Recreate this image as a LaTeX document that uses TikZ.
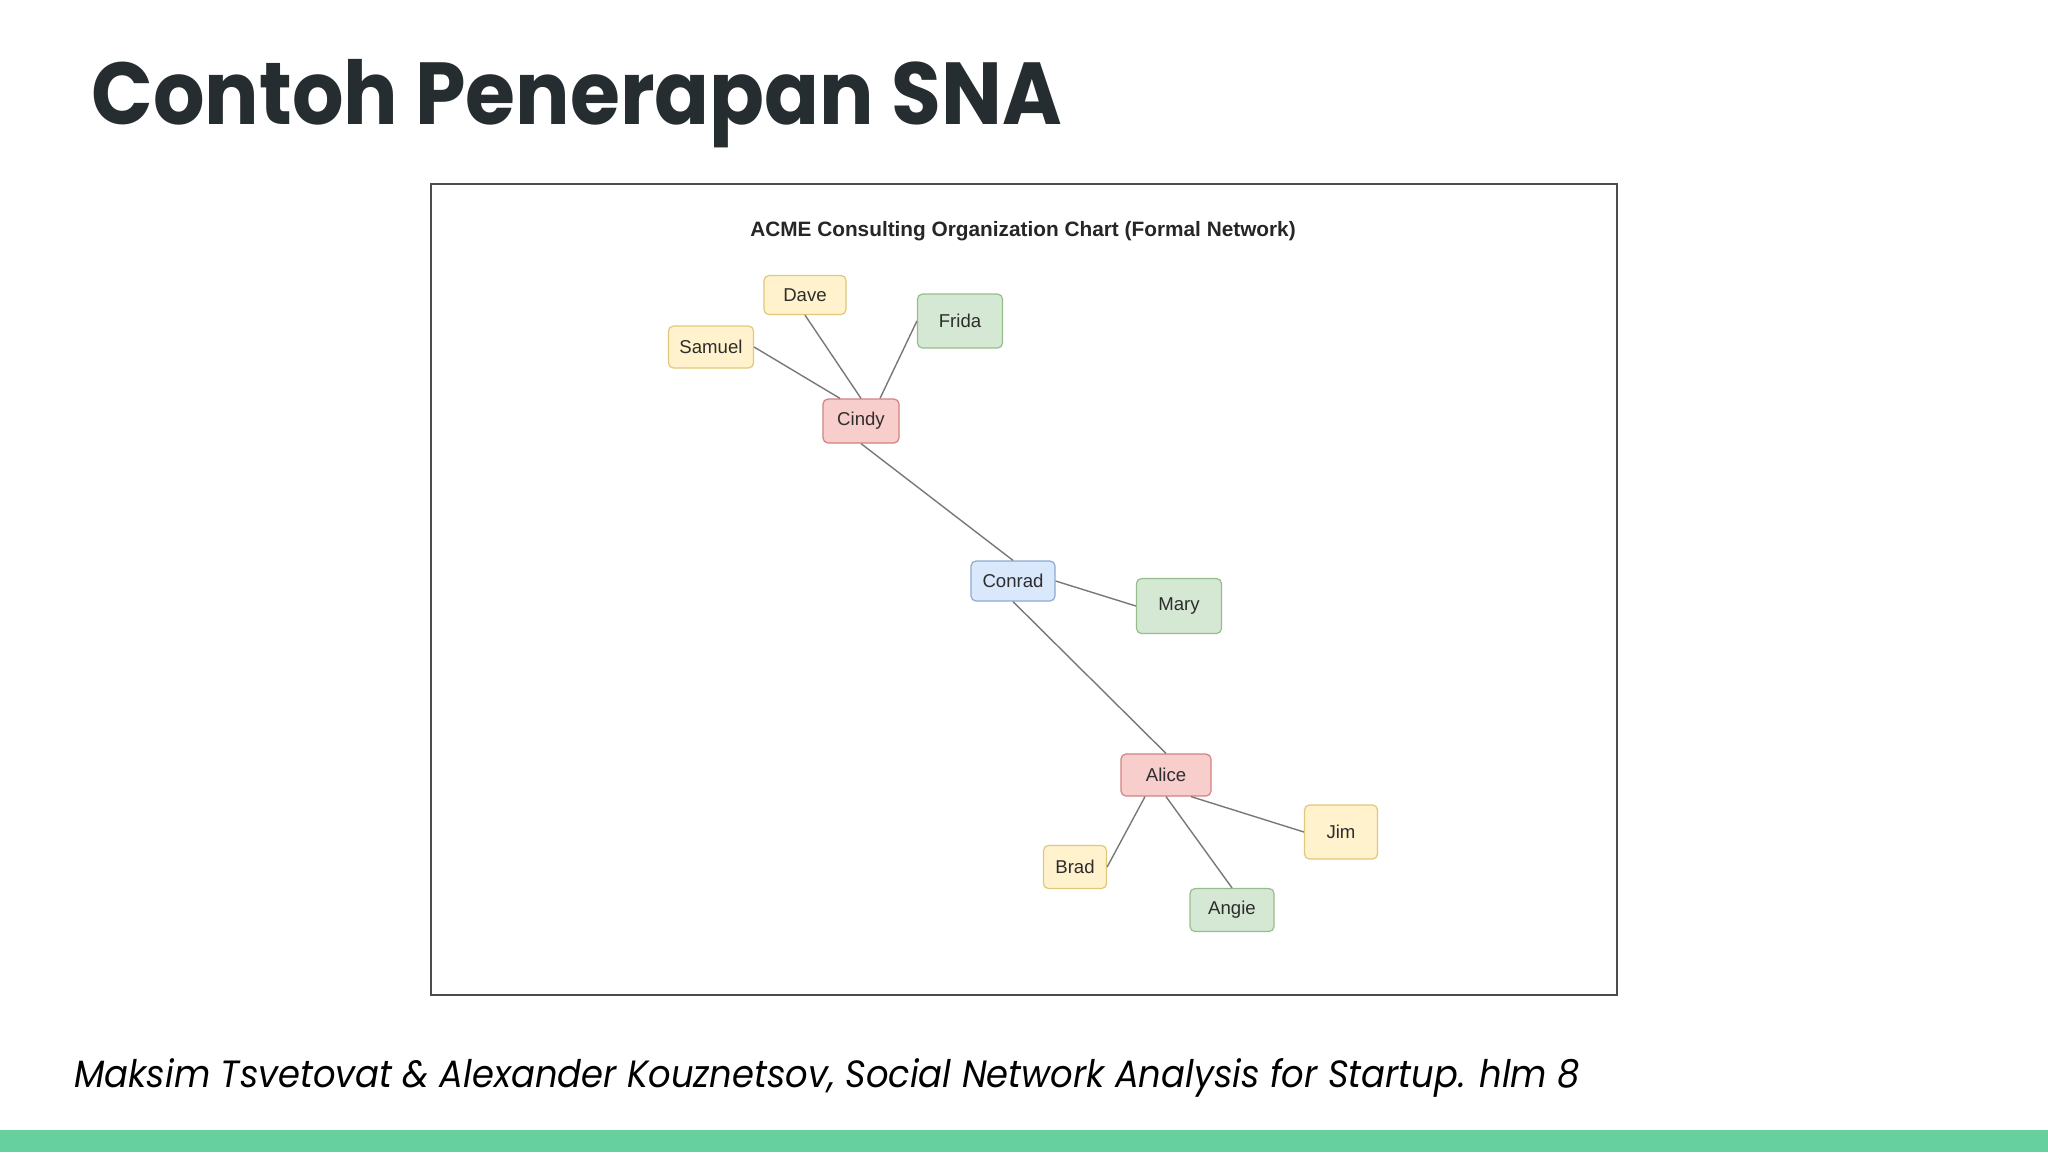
\documentclass[tikz,border=0pt]{standalone}
\usepackage{fontspec}
\setmainfont{Liberation Sans}
\newfontfamily\popfont{Poppins}
\definecolor{titlecol}{RGB}{38,45,48}
\definecolor{barcol}{RGB}{102,209,158}
\definecolor{ylwfill}{RGB}{255,242,204}
\definecolor{ylwdraw}{RGB}{224,200,120}
\definecolor{grnfill}{RGB}{213,232,212}
\definecolor{grndraw}{RGB}{150,190,140}
\definecolor{redfill}{RGB}{248,206,204}
\definecolor{reddraw}{RGB}{210,130,130}
\definecolor{blufill}{RGB}{218,232,252}
\definecolor{bludraw}{RGB}{140,170,210}
\definecolor{edgecol}{RGB}{120,120,120}
\definecolor{labcol}{RGB}{45,45,45}
\tikzset{
  person/.style={draw, rounded corners=2.5pt, line width=0.6pt, inner sep=0pt,
    font=\fontsize{9.3}{10}\selectfont, text=labcol},
  ylw/.style={person, fill=ylwfill, draw=ylwdraw},
  grn/.style={person, fill=grnfill, draw=grndraw},
  red/.style={person, fill=redfill, draw=reddraw},
  blu/.style={person, fill=blufill, draw=bludraw},
  link/.style={draw=edgecol, line width=0.7pt},
}
\begin{document}
\begin{tikzpicture}[x=0.5pt,y=-0.5pt]
\fill[white] (0,0) rectangle (2048,1152);
\useasboundingbox (0,0) rectangle (2048,1152);
% bottom bar
\fill[barcol] (0,1130) rectangle (2048,1152);
% title
\node[anchor=base west, inner sep=0pt, text=titlecol, font=\popfont\bfseries\fontsize{44}{50}\selectfont] (title) at (91,124) {\scalebox{0.92}[1]{Contoh Penerapan SNA}};
% frame
\node[draw=black!70, line width=0.6pt, minimum width=593pt, minimum height=405.5pt, inner sep=0pt] (frame) at (1024,589.5) {};
\node[anchor=base, inner sep=0pt, font=\bfseries\fontsize{10.4}{12}\selectfont, text=black!85] (charttitle) at (1023,236) {ACME Consulting Organization Chart (Formal Network)};
% nodes
\node[ylw, minimum width=41pt, minimum height=19.5pt] (dave) at (805,295) {Dave};
\node[ylw, minimum width=42.5pt, minimum height=21pt] (samuel) at (711,347) {Samuel};
\node[grn, minimum width=42.5pt, minimum height=27pt] (frida) at (960,321) {Frida};
\node[red, minimum width=38pt, minimum height=22pt] (cindy) at (861,421) {Cindy};
\node[blu, minimum width=42pt, minimum height=20pt] (conrad) at (1013,581) {Conrad};
\node[grn, minimum width=42.5pt, minimum height=27.5pt] (mary) at (1179,606) {Mary};
\node[red, minimum width=45pt, minimum height=21pt] (alice) at (1166,775) {Alice};
\node[ylw, minimum width=36.5pt, minimum height=27pt] (jim) at (1341,832) {Jim};
\node[ylw, minimum width=31.5pt, minimum height=21.5pt] (brad) at (1075,867) {Brad};
\node[grn, minimum width=42pt, minimum height=21.5pt] (angie) at (1232,910) {Angie};
% links
\draw[link] (samuel.east) -- ([xshift=-10.5pt]cindy.north);
\draw[link] (dave.south) -- (cindy.north);
\draw[link] (frida.west) -- ([xshift=9.5pt]cindy.north);
\draw[link] (cindy.south) -- (conrad.north);
\draw[link] (conrad.east) -- (mary.west);
\draw[link] (conrad.south) -- (alice.north);
\draw[link] ([xshift=12.5pt]alice.south) -- (jim.west);
\draw[link] ([xshift=-10.5pt]alice.south) -- (brad.east);
\draw[link] (alice.south) -- (angie.north);
% footnote
\node[anchor=base west, inner sep=0pt, text=black, font=\popfont\itshape\fontsize{19}{22}\selectfont] (foot) at (74,1087) {\scalebox{0.93}[1]{Maksim Tsvetovat \& Alexander Kouznetsov, Social Network Analysis for Startup. hlm 8}};
\end{tikzpicture}
\end{document}
